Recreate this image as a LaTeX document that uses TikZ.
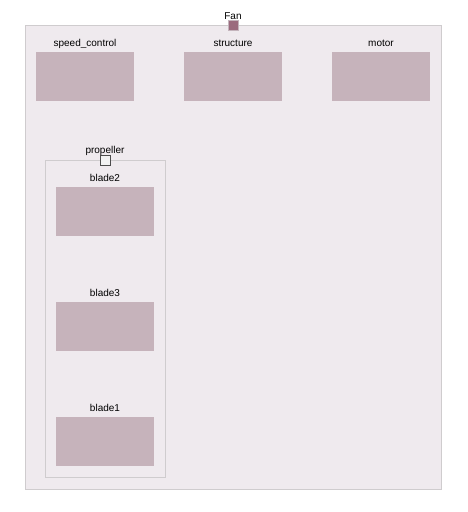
\documentclass[tikz,border=0pt]{standalone}
\usepackage{fontspec}
\setmainfont{Liberation Sans}
\definecolor{framefill}{HTML}{EFEAEE}
\definecolor{frameline}{HTML}{CFCCCE}
\definecolor{boxfill}{HTML}{C6B3BB}
\definecolor{portfill}{HTML}{9B6B7E}
\definecolor{portline}{HTML}{C4B4BC}
\tikzset{
  frame/.style={draw=frameline, fill=framefill, line width=0.8pt},
  part/.style={fill=boxfill, draw=none, minimum width=98pt, minimum height=49pt, inner sep=0, anchor=north west},
  lbl/.style={font=\fontsize{10}{12}\selectfont, inner sep=0, anchor=base},
  port/.style={minimum size=10pt, inner sep=0, line width=0.8pt},
}
\begin{document}
\begin{tikzpicture}[x=1pt,y=-1pt]
\useasboundingbox[fill=white] (0,0) rectangle (467,512);
% outer frame
\draw[frame] (25,25) rectangle (441,489);
\coordinate (fanport) at (233,25.5);
\node[port, draw=portline, fill=portfill] (fansq) at (fanport) {};
\node[lbl] (fanlbl) at (233,19) {Fan};
% top parts
\node[part] (speed) at (36,52) {};
\node[lbl] (speedlbl) at (85,46) {speed\_control};
\node[part] (structure) at (184,52) {};
\node[lbl] (structlbl) at (233,46) {structure};
\node[part] (motor) at (332,52) {};
\node[lbl] (motorlbl) at (381,46) {motor};
% propeller frame
\draw[frame] (45,160) rectangle (165,477);
\node[port, draw=black!70, fill=white!95!black] (propsq) at (105.5,160) {};
\node[lbl] (proplbl) at (105,153) {propeller};
\node[part] (blade2) at (56,187) {};
\node[lbl] (b2lbl) at (105,181) {blade2};
\node[part] (blade3) at (56,302) {};
\node[lbl] (b3lbl) at (105,296) {blade3};
\node[part] (blade1) at (56,417) {};
\node[lbl] (b1lbl) at (105,411) {blade1};
\end{tikzpicture}
\end{document}
